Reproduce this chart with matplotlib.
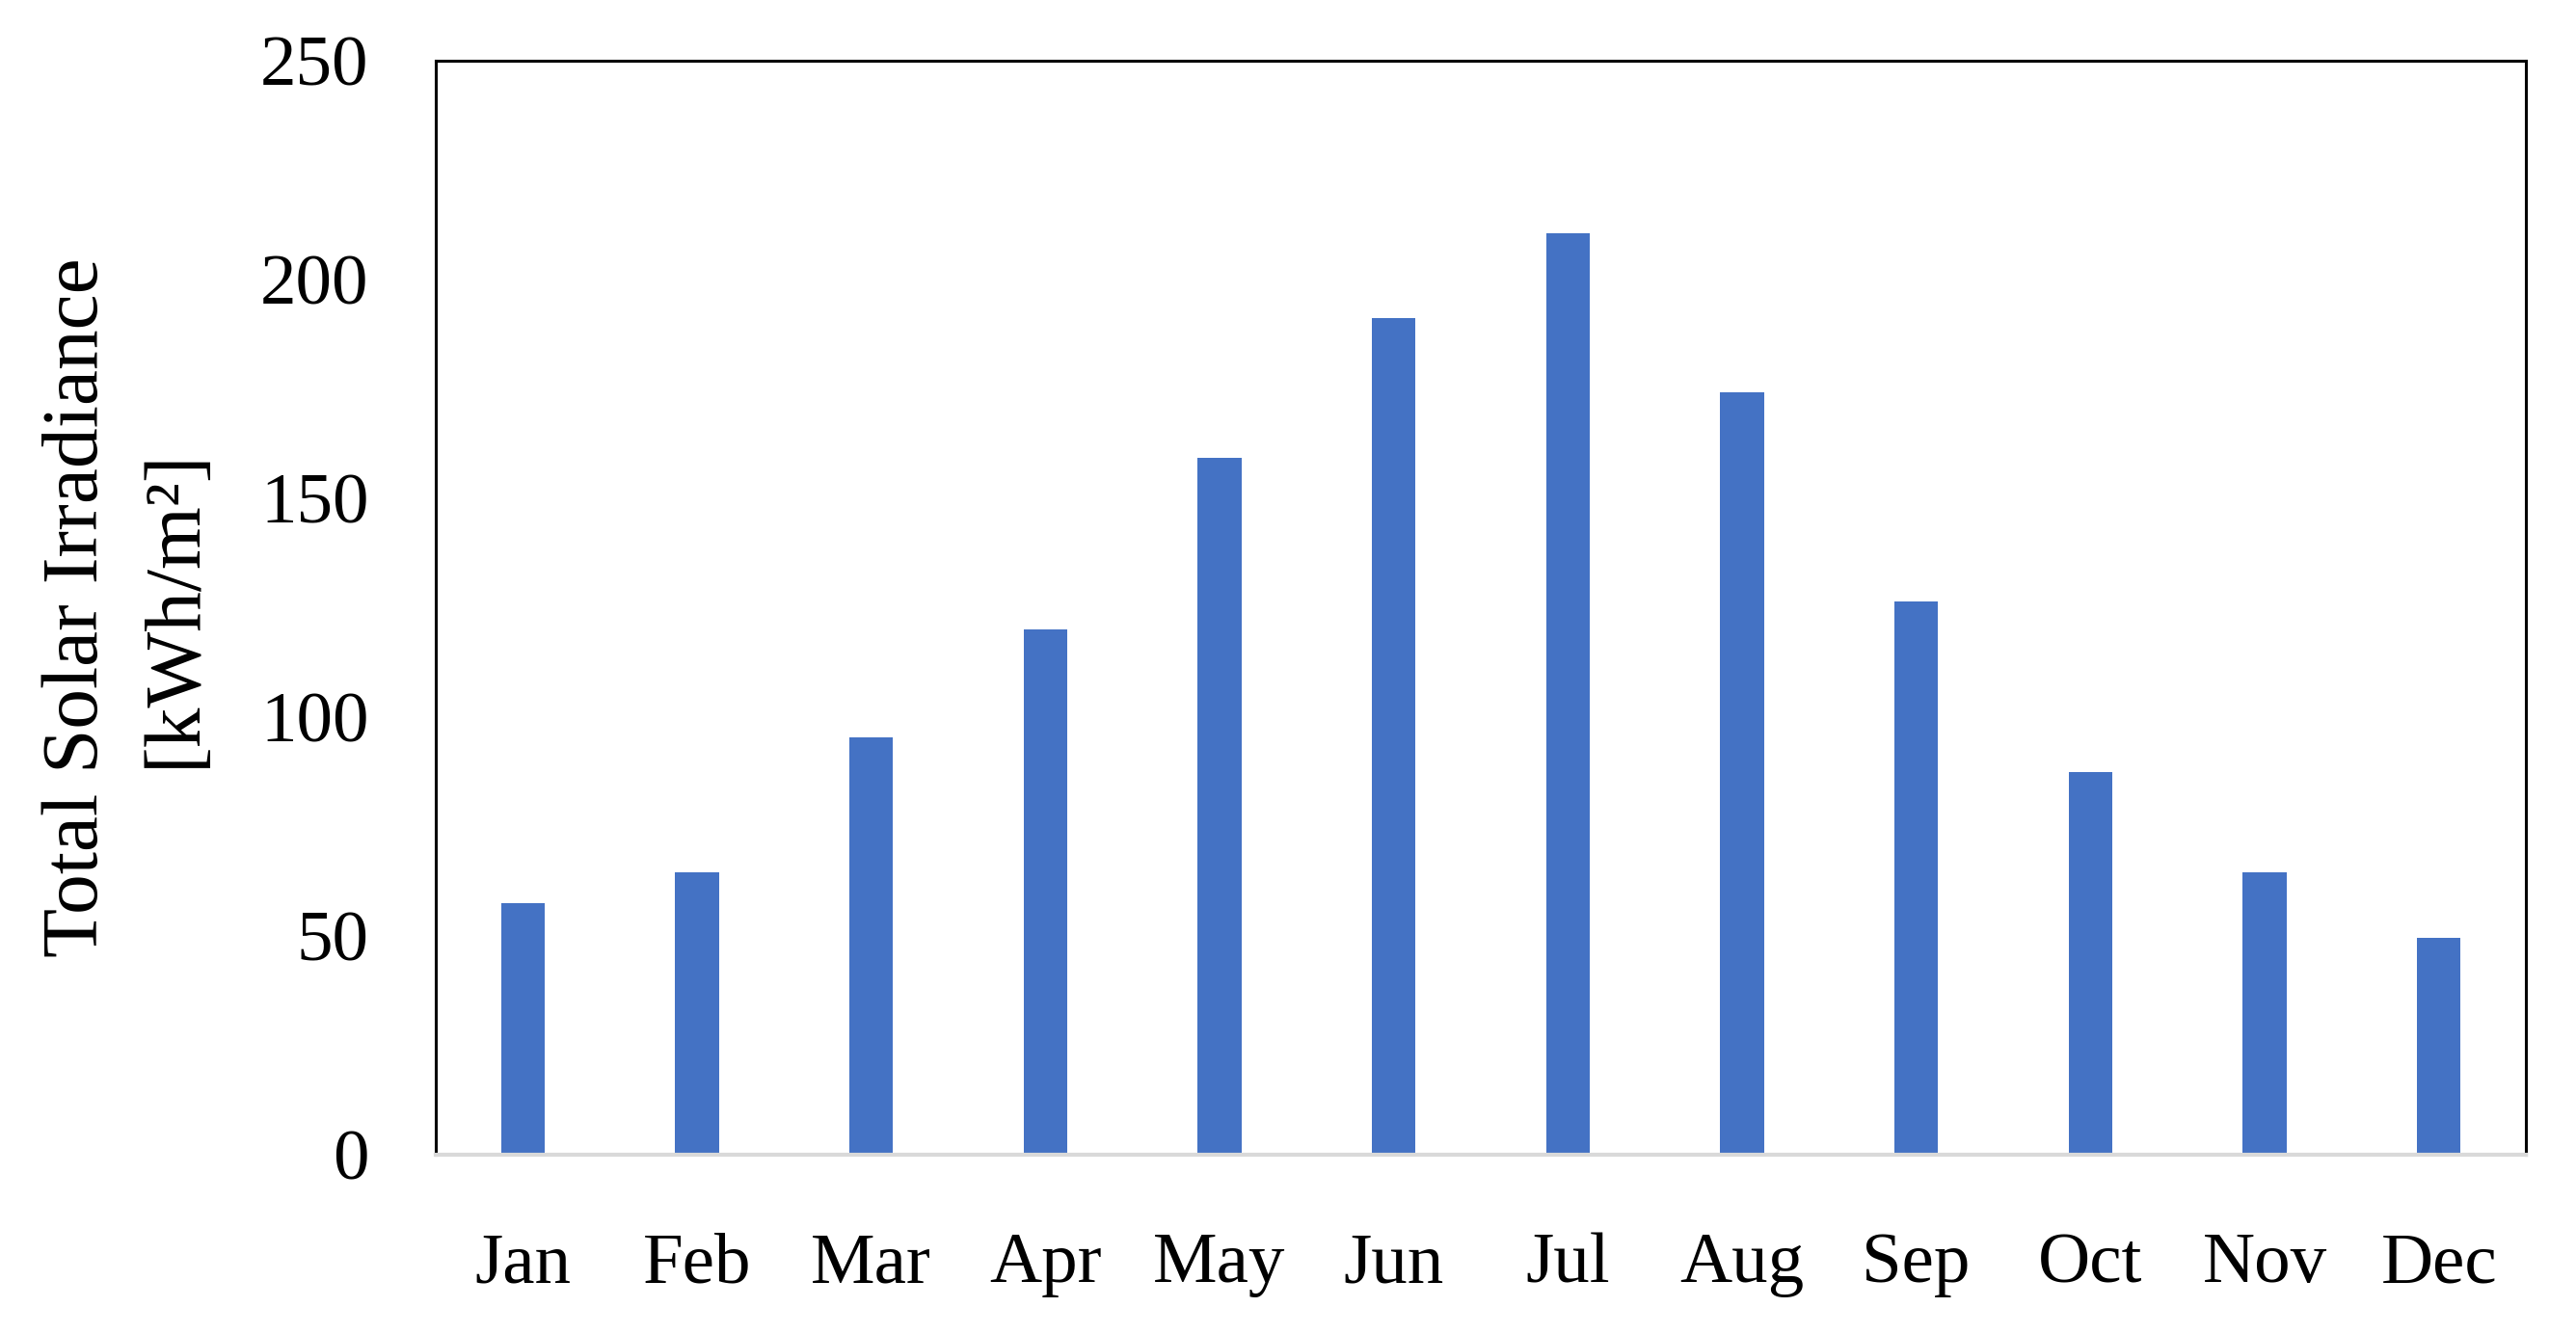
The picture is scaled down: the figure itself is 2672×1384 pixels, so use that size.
import matplotlib
matplotlib.use("Agg")
import matplotlib.pyplot as plt

months = ["Jan", "Feb", "Mar", "Apr", "May", "Jun", "Jul", "Aug", "Sep", "Oct", "Nov", "Dec"]
irradiance = [57.4, 64.6, 95.3, 120.1, 159.2, 191.1, 210.6, 174.2, 126.5, 87.5, 64.6, 49.5]
yticks = [0, 50, 100, 150, 200, 250]

plt.rcParams['font.family'] = ['Liberation Serif', 'DejaVu Serif']

fig = plt.figure(figsize=(26.72, 13.84), dpi=100)
ax = fig.add_axes([452/2672, 1 - 1198/1384, (2620-452)/2672, (1198-63)/1384])

x = range(len(months))
ax.bar(x, irradiance, width=0.25, color="#4472C4", zorder=2)

ax.set_xlim(-0.5, len(months) - 0.5)
ax.set_ylim(0, 250)
ax.set_yticks(yticks)
ax.set_yticklabels([str(v) for v in yticks])
ax.set_xticks(list(x))
ax.set_xticklabels(months)

ax.tick_params(axis='both', length=0, labelsize=54)
ax.tick_params(axis='y', pad=50)
ax.tick_params(axis='x', pad=58)

for s in ['left', 'top', 'right']:
    ax.spines[s].set_color('black')
    ax.spines[s].set_linewidth(2.2)
ax.spines['bottom'].set_color('#d9d9d9')
ax.spines['bottom'].set_linewidth(3)

ax.set_ylabel("Total Solar Irradiance\n[kWh/m²]", fontsize=60, linespacing=1.45, labelpad=36)

fig.savefig("out.png", dpi=100, facecolor="white")
